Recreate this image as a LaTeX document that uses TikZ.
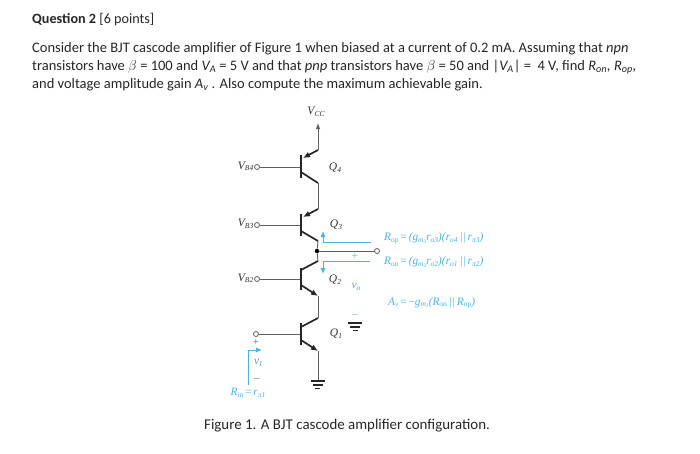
\documentclass[tikz,border=0pt]{standalone}
\usepackage{fontspec}
\usepackage{amsmath}
\setmainfont{Carlito}
\newfontfamily\figfont{Liberation Serif}
\usetikzlibrary{arrows.meta}
\definecolor{figblue}{RGB}{75,178,226}
\definecolor{wiregray}{RGB}{95,95,95}
\newcommand{\lowsub}[1]{\raisebox{-0.28ex}{\fontsize{7.5}{8}\selectfont #1}}
\newcommand{\lowsubb}[1]{\raisebox{-0.5ex}{\fontsize{5.5}{6}\selectfont #1}}
\tikzset{
  txt/.style={anchor=base west,inner sep=0pt,font=\fontsize{14.5}{16}\selectfont,text=black!85},
  lab/.style={inner sep=0pt,font=\figfont\itshape\fontsize{11.5}{12}\selectfont,text=black!80},
  bluelab/.style={anchor=west,inner sep=0pt,font=\figfont\itshape\fontsize{11.3}{12}\selectfont,text=figblue},
  signlab/.style={inner sep=0pt,font=\figfont\fontsize{11}{12}\selectfont,text=black!60},
  wire/.style={draw=wiregray,line width=0.9pt},
  dev/.style={draw=black!85,line width=1.7pt},
  bluewire/.style={draw=figblue,line width=0.9pt},
  term/.style={circle,draw=wiregray,fill=white,line width=0.8pt,minimum size=5pt,inner sep=0pt},
  dot/.style={circle,fill=black,minimum size=4.4pt,inner sep=0pt},
  gnd/.style={draw=black!85,line width=1.7pt}
}
\begin{document}
\begin{tikzpicture}[x=1pt,y=-1pt]
\useasboundingbox (0,0) rectangle (700,453);
% question text
\node[txt,font=\fontsize{14.2}{16}\selectfont] (title) at (32,23) {\textbf{Question 2} [6 points]};
\node[txt] (lineA) at (32,52) {Consider the BJT cascode amplifier of Figure 1 when biased at a current of 0.2 mA. Assuming that \textit{npn}};
\node[txt] (lineB) at (32,70) {transistors have $\beta$ = 100 and \textit{V\textsubscript{A}} = 5 V and that \textit{pnp} transistors have $\beta$ = 50 and |\textit{V\textsubscript{A}}| = \ 4 V, find \textit{R\textsubscript{on}, R\textsubscript{op},}};
\node[txt] (lineC) at (32,88) {and voltage amplitude gain \textit{A\textsubscript{v}} . Also compute the maximum achievable gain.};
\node[txt,font=\fontsize{14.9}{16}\selectfont] (caption) at (204,429) {Figure 1. A BJT cascode amplifier configuration.};
% terminals
\node[lab] (vcc) at (316,112) {V\lowsub{CC}};
\coordinate (top) at (318,123);
\node[term] (b4) at (257,167) {};
\node[term] (b3) at (257,225) {};
\node[term] (b2) at (257,279) {};
\node[term] (b1) at (256,334) {};
\node[lab,anchor=east] (vb4) at (253.5,166) {V\lowsub{B4}};
\node[lab,anchor=east] (vb3) at (253.5,224) {V\lowsub{B3}};
\node[lab,anchor=east] (vb2) at (253.5,278) {V\lowsub{B2}};
\node[lab] (q4) at (335,168) {Q\lowsub{4}};
\node[lab] (q3) at (336,225) {Q\lowsub{3}};
\node[lab] (q2) at (335,280) {Q\lowsub{2}};
\node[lab] (q1) at (336,334) {Q\lowsub{1}};
% transistor points
\coordinate (e4) at (318,150);
\coordinate (c4) at (318,183);
\coordinate (e3) at (318,209);
\coordinate (c3) at (318,241);
\coordinate (c2) at (318,261);
\coordinate (e2) at (318,296);
\coordinate (c1) at (318,318);
\coordinate (e1) at (318,351);
\coordinate (g1) at (318,380);
\node[dot] (mid) at (317,251) {};
\node[term] (out) at (377,251) {};
% wires
\draw[wire,-{Latex[length=6pt,width=4.5pt]}] (e4) -- (top);
\draw[wire] (c4) -- (e3);
\draw[wire] (c3) -- (mid) -- (c2);
\draw[wire] (e2) -- (c1);
\draw[wire] (e1) -- (g1);
\draw[wire] (mid) -- (out);
\draw[wire] (b4) -- (301,167);
\draw[wire] (b3) -- (301,225);
\draw[wire] (b2) -- (301,279);
\draw[wire] (b1) -- (301,334);
% Q4
\draw[dev] (301,155) -- (301,178);
\draw[dev,{Latex[length=7pt,width=6pt]}-] (303,158) -- (e4);
\draw[dev] (301,172) -- (c4);
% Q3
\draw[dev] (301,214) -- (301,236);
\draw[dev,{Latex[length=7pt,width=6pt]}-] (303,217) -- (e3);
\draw[dev] (301,231) -- (c3);
% Q2
\draw[dev] (301,268) -- (301,290);
\draw[dev] (301,270) -- (c2);
\draw[dev,-{Latex[length=7pt,width=6pt]}] (301,285) -- (e2);
% Q1
\draw[dev] (301,323) -- (301,345);
\draw[dev] (301,327) -- (c1);
\draw[dev,-{Latex[length=7pt,width=6pt]}] (301,340) -- (e1);
% grounds
\draw[gnd] (310.5,381) -- (324.5,381);
\draw[gnd] (312.5,385) -- (322.5,385);
\draw[gnd] (315,388.5) -- (320,388.5);
\draw[gnd] (348,323) -- (362,323);
\draw[gnd] (350,327) -- (360,327);
\draw[gnd] (352.5,330.5) -- (357.5,330.5);
% blue part
\coordinate (ropa) at (371,242);
\coordinate (ropb) at (323,242);
\coordinate (ropc) at (323,231);
\coordinate (rona) at (370,261);
\coordinate (ronb) at (323,261);
\coordinate (ronc) at (323,274);
\coordinate (rina) at (248,385);
\coordinate (rinb) at (248,350);
\coordinate (rinc) at (262,350);
\draw[bluewire,-{Latex[length=6pt,width=5pt]}] (ropa) -- (ropb) -- (ropc);
\draw[bluewire,-{Latex[length=6pt,width=5pt]}] (rona) -- (ronb) -- (ronc);
\draw[bluewire,-{Latex[length=6pt,width=5pt]}] (rina) -- (rinb) -- (rinc);
\node[bluelab] (rop) at (384,238.5) {R\lowsub{\upshape op}\,{\upshape =}\,(g\lowsub{m}\lowsubb{3}r\lowsub{o3})(r\lowsub{o4}\,||\,r\lowsub{π3})};
\node[bluelab] (ron) at (384,262) {R\lowsub{\upshape on}\,{\upshape =}\,(g\lowsub{m}\lowsubb{2}r\lowsub{o2})(r\lowsub{o1}\,||\,r\lowsub{π2})};
\node[bluelab] (av) at (388,303) {A\lowsub{v}\,{\upshape =}\,{\upshape −}g\lowsub{m}\lowsubb{1}(R\lowsub{\upshape on}\,||\,R\lowsub{\upshape op})};
\node[bluelab,anchor=center] (rin) at (248,393) {R\lowsub{\upshape in}\,{\upshape =}\,r\lowsub{π1}};
% signs
\node[signlab,text=figblue] (plusout) at (355,256) {+};
\node[lab,text=figblue!70!gray] (vo) at (356,287) {v\lowsub{o}};
\node[signlab,text=figblue!70!gray] (minusout) at (355,317) {−};
\node[signlab] (plusin) at (256,342) {+};
\node[lab,text=figblue!50!gray] (vi) at (258,363) {v\lowsub{I}};
\node[signlab] (minusin) at (257,381) {−};
\end{tikzpicture}
\end{document}
